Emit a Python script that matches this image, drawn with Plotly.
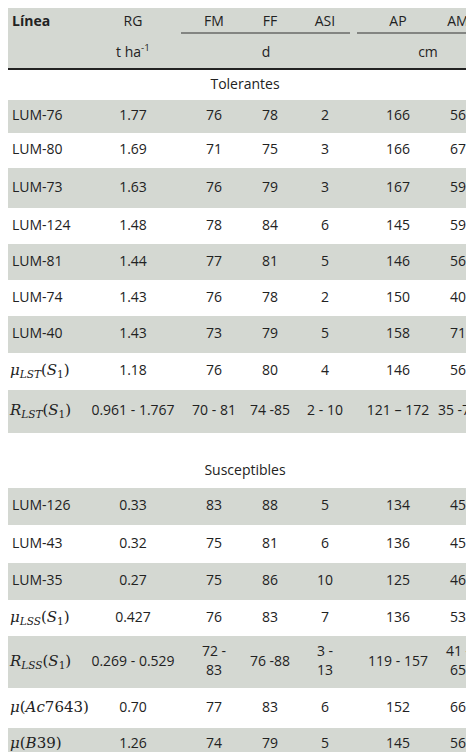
import plotly.graph_objects as go

lineas = ["LUM-76","LUM-80","LUM-73","LUM-124","LUM-81","LUM-74","LUM-40",
          "<i>μ</i><sub><i>LST</i></sub>(<i>S</i><sub>1</sub>)",
          "<i>R</i><sub><i>LST</i></sub>(<i>S</i><sub>1</sub>)",
          "LUM-126","LUM-43","LUM-35",
          "<i>μ</i><sub><i>LSS</i></sub>(<i>S</i><sub>1</sub>)",
          "<i>R</i><sub><i>LSS</i></sub>(<i>S</i><sub>1</sub>)",
          "<i>μ</i>(<i>Ac</i>7643)","<i>μ</i>(<i>B</i>39)"]
rg = ["1.77","1.69","1.63","1.48","1.44","1.43","1.43","1.18","0.961 - 1.767",
      "0.33","0.32","0.27","0.427","0.269 - 0.529","0.70","1.26"]
fm = ["76","71","76","78","77","76","73","76","70 - 81","83","75","75","76","72 -<br>83","77","74"]
ff = ["78","75","79","84","81","78","79","80","74 -85","88","81","86","83","76 -88","83","79"]
asi = ["2","3","3","6","5","2","5","4","2 - 10","5","6","10","7","3 -<br>13","6","5"]
ap = ["166","166","167","145","146","150","158","146","121 – 172","134","136","125","136","119 - 157","152","145"]
am = ["56","67","59","59","56","40","71","56","35 -74","45","45","46","53","41 -<br>65","66","56"]
headers = ["RG","FM","FF","ASI","AP","AM"]
units = ["t ha<sup>-1</sup>","d","cm"]

edges = [92,125,160,200,236,272,308,345,382,425, None,
         480,517,555,592,628,680,720,752]
rows = []
for i in range(len(edges)-1):
    a, b = edges[i], edges[i+1]
    if a is None or b is None: continue
    rows.append((a, b))
centers = [(a+b)/2 for a, b in rows]
GRAY = "#d4d8d2"
shapes = [dict(type="rect", x0=0, x1=474, y0=0, y1=61, fillcolor=GRAY, line_width=0, layer="below")]
for k, (a, b) in enumerate(rows):
    idx = k if k < 9 else k - 9
    if idx % 2 == 0:
        shapes.append(dict(type="rect", x0=0, x1=474, y0=a, y1=b, fillcolor=GRAY, line_width=0, layer="below"))
shapes += [dict(type="line", x0=173, x1=342, y0=25, y1=25, line=dict(color="#333", width=1)),
           dict(type="line", x0=349, x1=474, y0=25, y1=25, line=dict(color="#333", width=1)),
           dict(type="line", x0=0, x1=474, y0=61, y1=61, line=dict(color="#222", width=2))]

fig = go.Figure()
font = dict(family="Open Sans", size=14, color="#222")
mfont = dict(family="DejaVu Serif", size=15, color="#222")
xs = [125, 206, 262, 317, 390, 450]
for x, col in zip(xs, [rg, fm, ff, asi, ap, am]):
    fig.add_trace(go.Scatter(x=[x]*len(col), y=centers, text=col, mode="text",
                             textfont=font, hoverinfo="skip"))
plain = [i for i, t in enumerate(lineas) if t.startswith("LUM")]
math = [i for i in range(len(lineas)) if i not in plain]
fig.add_trace(go.Scatter(x=[4]*len(plain), y=[centers[i] for i in plain], text=[lineas[i] for i in plain],
                         mode="text", textposition="middle right", textfont=font, hoverinfo="skip"))
fig.add_trace(go.Scatter(x=[2]*len(math), y=[centers[i] for i in math], text=[lineas[i] for i in math],
                         mode="text", textposition="middle right", textfont=mfont, hoverinfo="skip"))
fig.add_trace(go.Scatter(x=xs, y=[14]*6, text=headers, mode="text", textfont=font, hoverinfo="skip"))
fig.add_trace(go.Scatter(x=[4], y=[14], text=["<b>Línea</b>"], mode="text", textposition="middle right",
                         textfont=font, hoverinfo="skip"))
fig.add_trace(go.Scatter(x=[125, 258, 420], y=[45]*3, text=units, mode="text", textfont=font, hoverinfo="skip"))
fig.add_trace(go.Scatter(x=[237, 237], y=[77, 463], text=["Tolerantes", "Susceptibles"], mode="text",
                         textfont=font, hoverinfo="skip"))

fig.update_layout(width=474, height=752, margin=dict(l=0, r=0, t=0, b=0), showlegend=False,
                  plot_bgcolor="white", paper_bgcolor="white", shapes=shapes,
                  xaxis=dict(range=[0, 474], visible=False, fixedrange=True),
                  yaxis=dict(range=[752, 0], visible=False, fixedrange=True))
fig.write_html("out.html", config={"displayModeBar": False})
